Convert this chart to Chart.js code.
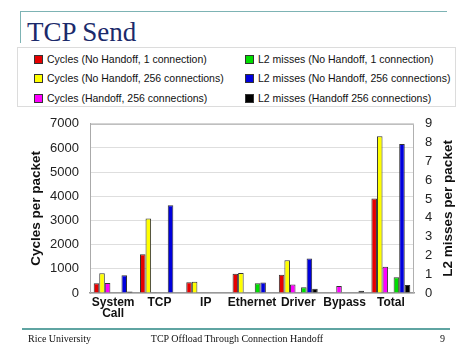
<!DOCTYPE html>
<html>
<head>
<meta charset="utf-8">
<script src="https://cdn.jsdelivr.net/npm/chart.js@4/dist/chart.umd.min.js"></script>
<style>
  html, body { margin:0; padding:0; background:#fff; }
  #page { position:relative; width:474px; height:355px; overflow:hidden; background:#fff; font-family:"Liberation Sans", Arial, sans-serif; }
  .abs { position:absolute; }
  #title { left:27px; top:19px; font-family:"Liberation Serif","Times New Roman",serif; font-size:27px; line-height:27px; color:#1b2a6b; white-space:nowrap; }
  #legend { left:17px; top:47px; width:439px; height:60px; border:1px solid #dcdcdc; box-sizing:border-box; }
  .li { position:absolute; height:14px; display:flex; align-items:center; font-size:10.5px; color:#111; white-space:nowrap; }
  .sw { width:9px; height:9px; border:1px solid #333; margin-right:4px; box-sizing:border-box; }
  .foot { top:333px; font-family:"Liberation Serif","Times New Roman",serif; font-size:10px; line-height:12px; color:#111; white-space:nowrap; }
  #chartWrap { left:0; top:105px; width:474px; height:230px; }
</style>
</head>
<body>
<div id="page">
  <div class="abs" style="left:20px;top:11px;width:427px;height:1px;background:#7db3b4;"></div>
  <div class="abs" style="left:20px;top:11px;width:1px;height:32px;background:#7db3b4;"></div>
  <div id="title" class="abs">TCP Send</div>
  <div id="legend" class="abs"></div>
  <div id="chartWrap" class="abs"><canvas id="c" width="474" height="230"></canvas></div>
  <div class="abs" style="left:22px;top:328px;width:428px;height:2px;background:#5fa4a2;"></div>
  <div class="abs foot" style="left:28px;">Rice University</div>
  <div class="abs foot" style="left:237px;transform:translateX(-50%);">TCP Offload Through Connection Handoff</div>
  <div class="abs foot" style="left:440px;">9</div>
</div>
<script>
// ---- data ----
const categories = [["System", "Call"], "TCP", "IP", "Ethernet", "Driver", "Bypass", "Total"];
const cyclesNoHandoff1   = [400, 1600, 440, 800, 760, null, 3910];
const cyclesNoHandoff256 = [820, 3080, 470, 830, 1350, null, 6490];
const cyclesHandoff256   = [410, 30, null, null, 350, 290, 1090];
const l2NoHandoff1       = [null, null, null, 0.52, 0.30, null, 0.84];
const l2NoHandoff256     = [0.95, 4.67, null, 0.56, 1.83, null, 7.92];
const l2Handoff256       = [0.08, null, null, null, 0.23, 0.12, 0.42];
const spacer             = [null, null, null, null, null, null, null];
const cyclesTicks = [0, 1000, 2000, 3000, 4000, 5000, 6000, 7000];
const l2Ticks = [0, 1, 2, 3, 4, 5, 6, 7, 8, 9];

const series = [
  { label: "Cycles (No Handoff, 1 connection)", data: cyclesNoHandoff1, color: "#e60000", axis: "y" },
  { label: "Cycles (No Handoff, 256 connections)", data: cyclesNoHandoff256, color: "#ffff00", axis: "y" },
  { label: "Cycles (Handoff, 256 connections)", data: cyclesHandoff256, color: "#ff00ff", axis: "y" },
  { label: "", data: spacer, color: "rgba(0,0,0,0)", axis: "y", spacer: true },
  { label: "L2 misses (No Handoff, 1 connection)", data: l2NoHandoff1, color: "#00dd00", axis: "y1" },
  { label: "L2 misses (No Handoff, 256 connections)", data: l2NoHandoff256, color: "#0000dd", axis: "y1" },
  { label: "L2 misses (Handoff 256 connections)", data: l2Handoff256, color: "#000000", axis: "y1" }
];

// HTML legend (two columns)
const legendEl = document.getElementById("legend");
const legendItems = series.filter(s => !s.spacer);
const rowsY = [4, 23, 43];
legendItems.forEach((s, i) => {
  const col = i < 3 ? 0 : 1;
  const row = i % 3;
  const d = document.createElement("div");
  d.className = "li";
  d.style.left = (col === 0 ? 16 : 227) + "px";
  d.style.top = rowsY[row] + "px";
  const sw = document.createElement("span");
  sw.className = "sw";
  sw.style.background = s.color;
  d.appendChild(sw);
  d.appendChild(document.createTextNode(s.label));
  legendEl.appendChild(d);
});

const frame = {
  id: "frame",
  afterDraw(chart) {
    const { ctx, chartArea: a } = chart;
    ctx.save();
    ctx.strokeStyle = "#b0b0b0";
    ctx.lineWidth = 1;
    ctx.beginPath();
    ctx.moveTo(a.left + 0.5, a.top + 0.5);
    ctx.lineTo(a.right - 0.5, a.top + 0.5);
    ctx.lineTo(a.right - 0.5, a.bottom);
    ctx.stroke();
    // right axis title (reads bottom-to-top)
    ctx.translate(448, (a.top + a.bottom) / 2);
    ctx.rotate(-Math.PI / 2);
    ctx.font = "bold 13.5px 'Liberation Sans', Arial, sans-serif";
    ctx.fillStyle = "#111";
    ctx.textAlign = "center";
    ctx.textBaseline = "middle";
    ctx.fillText("L2 misses per packet", 0, 0);
    ctx.restore();
  }
};

new Chart(document.getElementById("c"), {
  type: "bar",
  data: {
    labels: categories,
    datasets: series.map(s => ({
      label: s.label,
      data: s.data,
      yAxisID: s.axis,
      backgroundColor: s.color,
      borderColor: s.spacer ? "rgba(0,0,0,0)" : "#333",
      borderWidth: s.spacer ? 0 : 1,
      categoryPercentage: 0.84,
      barPercentage: 1.0
    }))
  },
  options: {
    responsive: false,
    animation: false,
    layout: { padding: { top: 11, left: 0, right: 0, bottom: 0 } },
    plugins: { legend: { display: false }, tooltip: { enabled: false } },
    scales: {
      x: {
        grid: { display: false, drawTicks: false },
        border: { color: "#999", width: 1.5 },
        ticks: { color: "#111", padding: 4, font: { family: "'Liberation Sans', Arial, sans-serif", size: 12, weight: "bold", lineHeight: 0.95 }, maxRotation: 0, autoSkip: false },
        afterFit: s => { s.height = 42; }
      },
      y: {
        position: "left",
        min: 0, max: cyclesTicks[cyclesTicks.length - 1],
        afterBuildTicks: s => { s.ticks = cyclesTicks.map(v => ({ value: v })); },
        grid: { color: "#dedede", lineWidth: 1, drawTicks: false },
        border: { color: "#aaa", width: 1 },
        ticks: { color: "#222", padding: 11, callback: v => String(v), font: { family: "'Liberation Sans', Arial, sans-serif", size: 13 } },
        title: { display: true, text: "Cycles per packet", color: "#111", padding: { top: 28, bottom: 0 }, font: { family: "'Liberation Sans', Arial, sans-serif", size: 13.5, weight: "bold" } },
        afterFit: s => { s.width = 90; }
      },
      y1: {
        position: "right",
        min: 0, max: l2Ticks[l2Ticks.length - 1],
        afterBuildTicks: s => { s.ticks = l2Ticks.map(v => ({ value: v })); },
        grid: { drawOnChartArea: false, drawTicks: false },
        border: { display: false },
        ticks: { color: "#222", padding: 11, callback: v => String(v), font: { family: "'Liberation Sans', Arial, sans-serif", size: 13 } },
        afterFit: s => { s.width = 60; }
      }
    }
  },
  plugins: [frame]
});
</script>
</body>
</html>
